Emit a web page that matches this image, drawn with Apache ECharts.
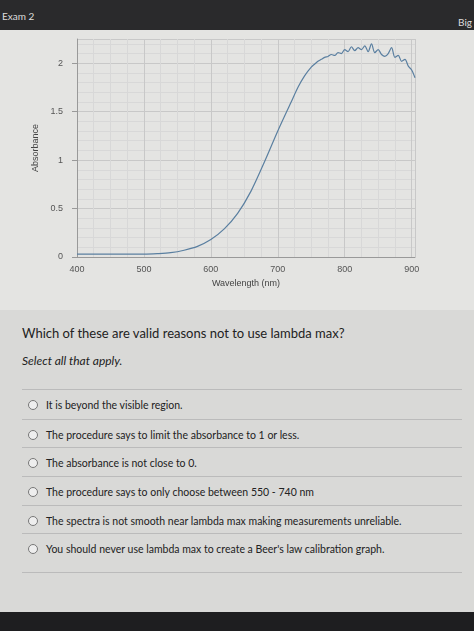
<!DOCTYPE html><html><head><meta charset="utf-8">
<script src="https://cdn.jsdelivr.net/npm/echarts@6/dist/echarts.min.js"></script>
<style>
body{margin:0;width:474px;height:631px;background:#d9d9d7;font-family:Lato,"Open Sans",sans-serif;position:relative;overflow:hidden;color:#222}
#top{position:absolute;left:0;top:0;width:474px;height:30px;background:#2a2a2c;color:#ddd;font-size:10px}
#chart{position:absolute;left:0;top:30px;width:474px;height:280px;background:#e4e4e2}
#q{position:absolute;left:22px;top:325px;font-size:13px}
#s{position:absolute;left:22px;top:353px;font-size:12px;font-style:italic}
.opt{position:absolute;left:28px;font-size:10.5px;display:flex;align-items:center}
.opt span{display:inline-block;width:8px;height:8px;border:1px solid #777;border-radius:50%;margin-right:8px;background:#eee}
.ln{position:absolute;left:22px;width:440px;height:1px;background:#bbb}
#bot{position:absolute;left:0;top:612px;width:474px;height:19px;background:#1e1e20}
</style></head><body>
<div id="top"><span style="position:absolute;left:2px;top:10px">Exam 2</span><span style="position:absolute;right:2px;top:16px">Big</span></div>
<div id="chart"></div>
<div id="q">Which of these are valid reasons not to use lambda max?</div>
<div id="s">Select all that apply.</div>
<div id="opts"></div>
<div id="bot"></div>
<script>
const wavelengths=[400,450,500,520,540,560,580,600,620,640,660,680,700,720,730,740,750,755,760,765,770,775,780,785,790,795,800,805,810,815,820,825,830,835,840,845,850,855,860,865,870,875,880,885,890,895,900,905];
const absorbance=[0.03,0.03,0.03,0.035,0.045,0.07,0.11,0.18,0.29,0.45,0.68,0.98,1.30,1.60,1.75,1.87,1.96,1.99,2.02,2.04,2.06,2.07,2.09,2.08,2.11,2.10,2.14,2.12,2.17,2.13,2.16,2.14,2.18,2.12,2.20,2.11,2.14,2.09,2.07,2.10,2.16,2.06,2.08,2.02,2.04,1.97,1.93,1.85];
const xTicks=[400,500,600,700,800,900];
const options=["It is beyond the visible region.","The procedure says to limit the absorbance to 1 or less.","The absorbance is not close to 0.","The procedure says to only choose between 550 - 740 nm","The spectra is not smooth near lambda max making measurements unreliable.","You should never use lambda max to create a Beer's law calibration graph."];
const optY=[399,429,457,486,515,543];
let h='';options.forEach((o,i)=>{h+=`<div class="ln" style="top:${optY[i]-10}px"></div><div class="opt" style="top:${optY[i]}px"><span></span>${o}</div>`;});
h+=`<div class="ln" style="top:572px"></div>`;
document.getElementById('opts').innerHTML=h;
const c=echarts.init(document.getElementById('chart'));
c.setOption({animation:false,grid:{left:77,right:59,top:9,bottom:53},
xAxis:{type:'value',min:400,max:905,interval:100,axisLine:{lineStyle:{color:'#999'}},axisTick:{show:false},
 axisLabel:{color:'#555',fontSize:9,customValues:xTicks},minorTick:{show:false,splitNumber:4},
 splitLine:{lineStyle:{color:'#c8c8c8'}},minorSplitLine:{show:true,lineStyle:{color:'#d8d8d8'}},
 name:'Wavelength (nm)',nameLocation:'middle',nameGap:20,nameTextStyle:{color:'#444',fontSize:9}},
yAxis:{type:'value',min:0,max:2.25,interval:0.5,axisLine:{show:true,lineStyle:{color:'#999'}},axisLabel:{color:'#555',fontSize:9,showMaxLabel:false,margin:14},
 splitLine:{lineStyle:{color:'#c8c8c8'}},minorSplitLine:{show:true,lineStyle:{color:'#d8d8d8'}},minorTick:{splitNumber:5},
 name:'Absorbance',nameLocation:'middle',nameGap:32,nameTextStyle:{color:'#444',fontSize:9}},
series:[{type:'line',showSymbol:false,smooth:0.3,data:wavelengths.map((w,i)=>[w,absorbance[i]]),lineStyle:{color:'#5a7fa0',width:1.2}}]});
</script></body></html>
